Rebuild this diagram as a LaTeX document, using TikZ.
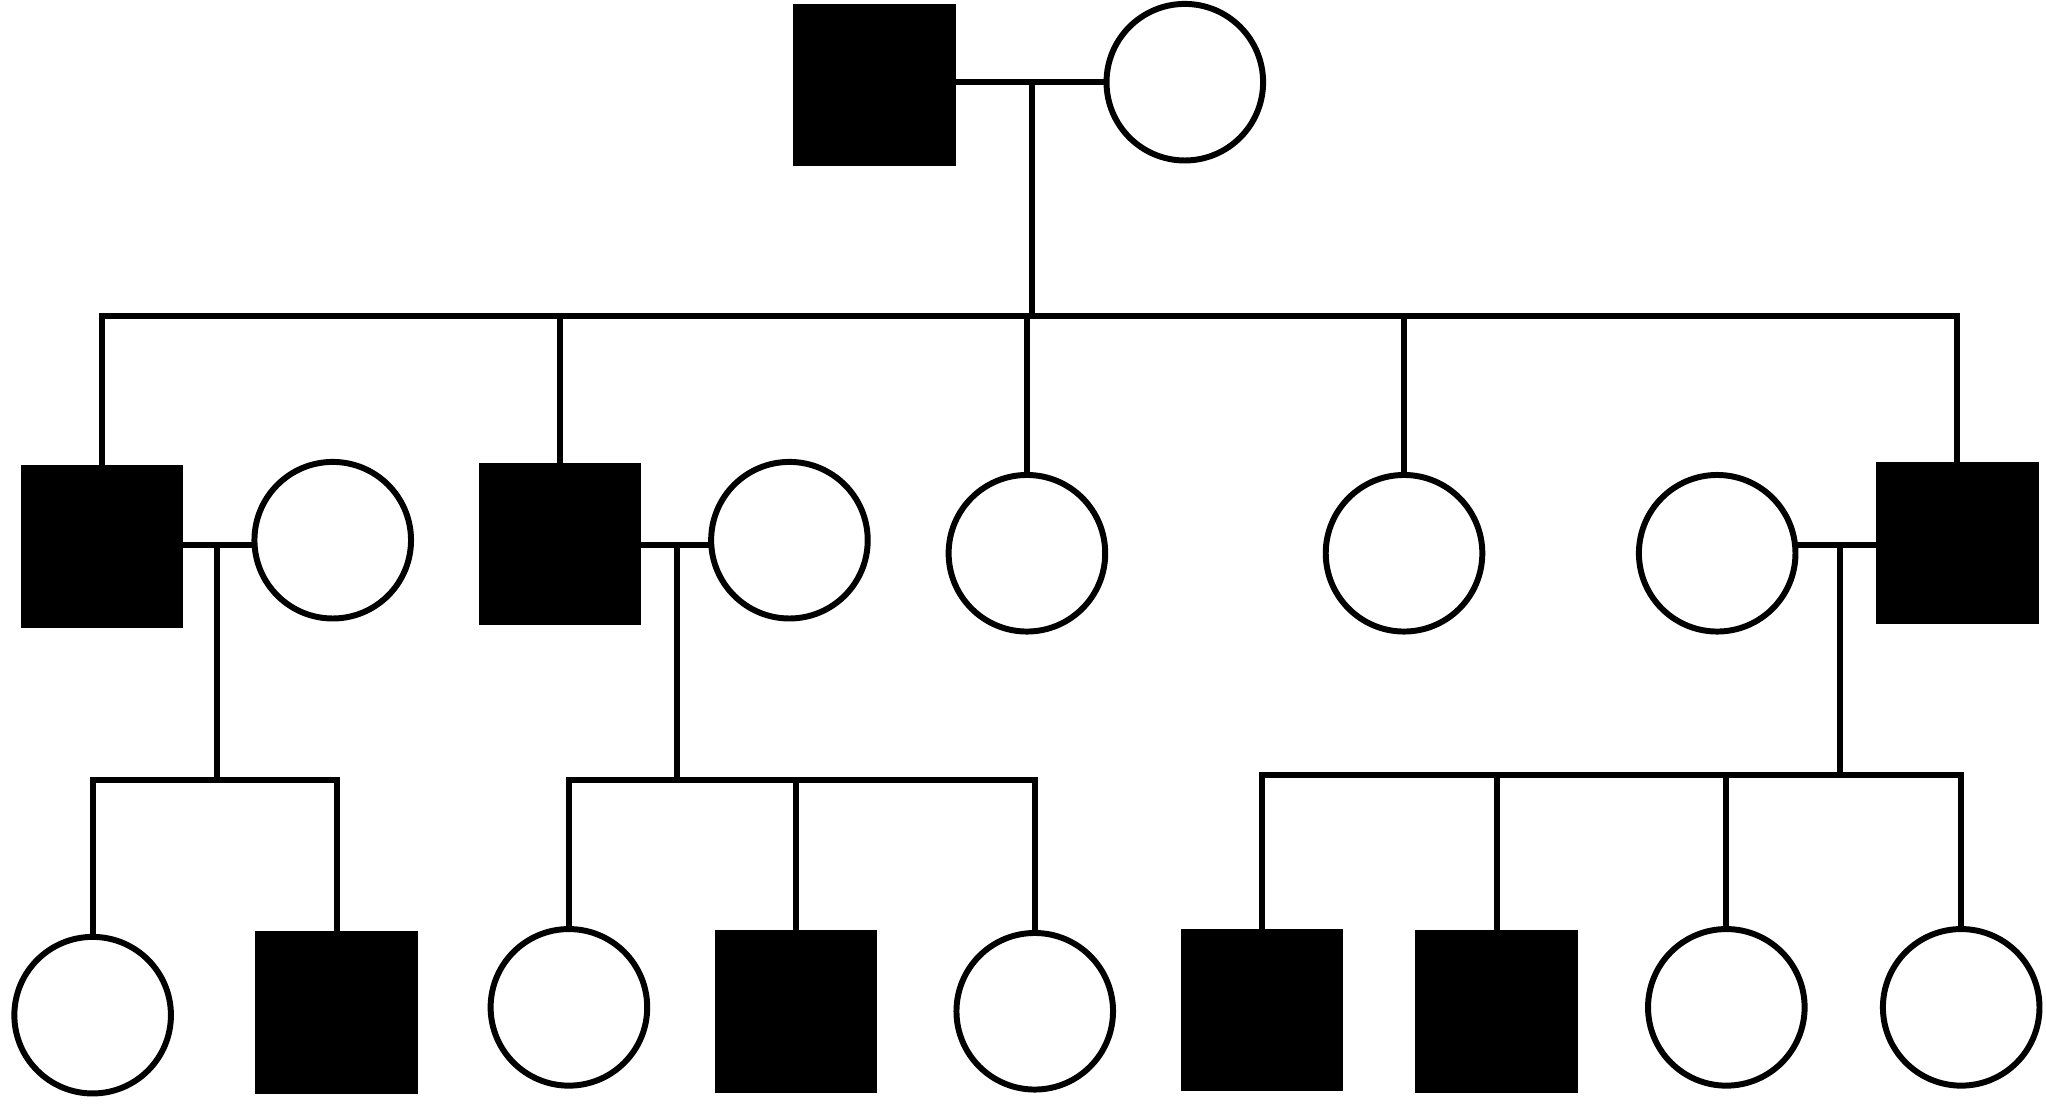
\documentclass[tikz,border=0pt]{standalone}
\usepackage{tikz}
\begin{document}
\begin{tikzpicture}[line width=1.3pt,
    aff/.style={draw, fill=black, minimum size=1.2cm, inner sep=0pt},
    unaff/.style={draw, circle, fill=white, minimum size=1.2cm, inner sep=0pt}]
      \useasboundingbox (0,0) rectangle (15.68,-8.46);
      \draw
        (6.70,-0.65) node[aff] (I1){}
        (9.08,-0.63) node[unaff] (I2){}
        (0.78,-4.19) node[aff] (II1){}
        (2.55,-4.14) node[unaff] (II2){}
        (4.29,-4.17) node[aff] (II3){}
        (6.05,-4.14) node[unaff] (II4){}
        (7.87,-4.24) node[unaff] (II5){}
        (10.76,-4.24) node[unaff] (II6){}
        (13.16,-4.24) node[unaff] (II7){}
        (15.00,-4.16) node[aff] (II8){}
        (0.71,-7.78) node[unaff] (III1){}
        (2.58,-7.76) node[aff] (III2){}
        (4.36,-7.72) node[unaff] (III3){}
        (6.10,-7.75) node[aff] (III4){}
        (7.93,-7.75) node[unaff] (III5){}
        (9.67,-7.74) node[aff] (III6){}
        (11.47,-7.75) node[aff] (III7){}
        (13.23,-7.72) node[unaff] (III8){}
        (15.03,-7.72) node[unaff] (III9){};
      \coordinate (m1) at (7.91,-0.63);
      \coordinate (s1) at (7.91,-2.42);
      \coordinate (m2) at (1.66,-4.18);
      \coordinate (s2) at (1.66,-5.98);
      \coordinate (m3) at (5.19,-4.18);
      \coordinate (s3) at (5.19,-5.98);
      \coordinate (m4) at (14.10,-4.18);
      \coordinate (s4) at (14.10,-5.94);
      \begin{scope}[-, line cap=rect]
        \draw (I1.east |- m1) to (I2.west |- m1);
        \draw (II1.east |- m2) to (II2.west |- m2);
        \draw (II3.east |- m3) to (II4.west |- m3);
        \draw (II7.east |- m4) to (II8.west |- m4);
        \draw (m1) to (s1);
        \draw (m2) to (s2);
        \draw (m3) to (s3);
        \draw (m4) to (s4);
        \draw (II1.north |- s1) to (II8.north |- s1);
        \draw (III1.north |- s2) to (III2.north |- s2);
        \draw (III3.north |- s3) to (III5.north |- s3);
        \draw (III6.north |- s4) to (III9.north |- s4);
        \foreach \n in {II1,II3,II5,II6,II8}
          \draw (\n.north |- s1) to (\n.north);
        \foreach \n in {III1,III2}
          \draw (\n.north |- s2) to (\n.north);
        \foreach \n in {III3,III4,III5}
          \draw (\n.north |- s3) to (\n.north);
        \foreach \n in {III6,III7,III8,III9}
          \draw (\n.north |- s4) to (\n.north);
      \end{scope}
    \end{tikzpicture}
\end{document}
